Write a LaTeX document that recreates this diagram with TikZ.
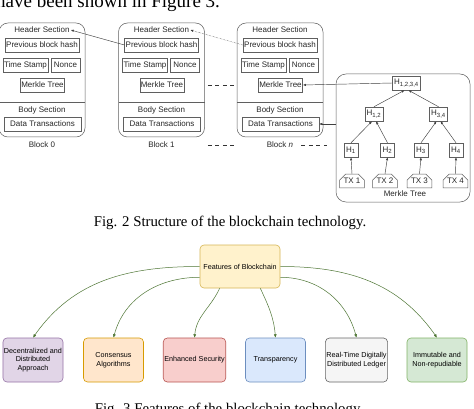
\documentclass[tikz,border=0pt]{standalone}
\usepackage{fontspec}
\setmainfont{Liberation Serif}
\setsansfont{Liberation Sans}
\usepackage{tikz}
\usetikzlibrary{arrows.meta,positioning,shapes.misc,calc}
\usepackage{xcolor}
\definecolor{linegray}{RGB}{95,95,95}
\definecolor{txtgray}{RGB}{40,40,40}
\definecolor{featfill}{HTML}{FFF2CC}
\definecolor{featdraw}{HTML}{D6B656}
\definecolor{purplefill}{HTML}{E1D5E7}
\definecolor{purpledraw}{HTML}{9673A6}
\definecolor{orangefill}{HTML}{FFE6CC}
\definecolor{orangedraw}{HTML}{D79B00}
\definecolor{redfill}{HTML}{F8CECC}
\definecolor{reddraw}{HTML}{B85450}
\definecolor{bluefill}{HTML}{DAE8FC}
\definecolor{bluedraw}{HTML}{6C8EBF}
\definecolor{greyfill}{HTML}{F5F5F5}
\definecolor{greydraw}{HTML}{666666}
\definecolor{greenfill}{HTML}{D5E8D4}
\definecolor{greendraw}{HTML}{82B366}
\definecolor{arrowgreen}{RGB}{78,118,52}
\newcommand{\smallsf}{\sffamily\fontsize{8}{9}\selectfont}
\newcommand{\tinysf}{\sffamily\fontsize{7.2}{8.7}\selectfont}
\tikzset{
  blk/.style={draw=linegray,rounded corners=9pt,minimum width=86pt,minimum height=114pt,
              inner sep=0pt,line width=.5pt},
  fld/.style={draw=linegray,font=\smallsf,text=txtgray,minimum height=14pt,inner sep=1pt,
              line width=.5pt},
  lbl/.style={font=\smallsf,text=txtgray,inner sep=1pt},
  link/.style={-{Latex[length=3pt,width=2.4pt]},draw=black!75,line width=.45pt},
  gap/.style={draw=black!80,line width=.7pt,dash pattern=on 4pt off 3.5pt},
  hbox/.style={draw=linegray,font=\smallsf,text=txtgray,minimum height=14pt,minimum width=14pt,
               inner sep=1.5pt,line width=.5pt},
  txbox/.style={chamfered rectangle,chamfered rectangle corners={north west,north east},
                chamfered rectangle xsep=3pt,draw=linegray,font=\smallsf,text=txtgray,
                minimum width=20pt,minimum height=11pt,inner sep=1pt,line width=.5pt},
  feature/.style={draw,rounded corners=4pt,minimum width=60pt,minimum height=44pt,
                  align=center,font=\tinysf,inner sep=1pt,line width=.6pt},
  featarrow/.style={-{Latex[length=3.5pt,width=3pt]},draw=arrowgreen,line width=.5pt},
  caption/.style={font=\fontsize{14.8}{16}\selectfont,inner sep=0pt},
}

\begin{document}
\begin{tikzpicture}[x=1pt,y=1pt]
  \fill[white] (0,0) rectangle (474,-409);
  \useasboundingbox (0,0) rectangle (474,-409);
  % running text above the figures
  \node[caption,anchor=base west,font=\fontsize{19}{21}\selectfont] (prose) at (-4,-7.5)
    {have been shown in Figure 3.};
  % the three blocks of the chain
  \foreach \bx/\nm/\blab in {-1/b0/0, 118.5/b1/1, 237/bn/\textit{n}}{
    \node[blk] (\nm) at (\bx+43,-80) {};
    \node[lbl] (\nm-hdr)   at (\bx+43,-30)   {Header Section};
    \node[fld,minimum width=72pt] (\nm-prev)  at (\bx+43,-45)   {Previous block hash};
    \node[fld,minimum width=43pt] (\nm-ts)    at (\bx+26.5,-65) {Time Stamp};
    \node[fld,minimum width=29pt] (\nm-nonce) at (\bx+66.5,-65) {Nonce};
    \node[fld,minimum width=43pt] (\nm-mt)    at (\bx+43.5,-85) {Merkle Tree};
    \draw[draw=linegray,line width=.5pt] (\bx,-102) -- (\bx+86,-102);
    \node[lbl] (\nm-body)  at (\bx+43,-110)  {Body Section};
    \node[fld,minimum width=77pt] (\nm-data)  at (\bx+43.5,-124) {Data Transactions};
    \node[lbl] (\nm-lbl)   at (\bx+43,-145)  {Block \blab};
  }
  \draw[link] (b1-prev.west) -- (b0-hdr.east);
  \draw[link,densely dotted] (bn-prev.west) -- (b1-hdr.east);
  \draw[gap] ($(b1.east |- b1-mt)+(3,0)$) -- ($(bn.west |- b1-mt)+(-3,0)$);
  \draw[gap] ($(b1.east |- b1-lbl)+(3,0)$) -- ($(bn.west |- b1-lbl)+(-3,0)$);
  \draw[gap] ($(bn.east |- bn-lbl)+(-22,0)$) -- ($(bn.east |- bn-lbl)+(4,0)$);

  % merkle tree panel
  \node[blk,minimum width=134pt,minimum height=128pt,rounded corners=10pt] (mpanel) at (403,-138) {};
  \node[lbl] (mlabel) at (405,-194) {Merkle Tree};
  \node[hbox] (h1234) at (406.5,-83) {H\textsubscript{1,2,3,4}};
  \node[hbox] (h12) at (374,-114) {H\textsubscript{1,2}};
  \node[hbox] (h34) at (438.5,-114) {H\textsubscript{3,4}};
  \foreach \i/\hx/\tx in {1/351/352, 2/387.5/385, 3/421/419.5, 4/456/455.5}{
    \node[hbox] (h\i) at (\hx,-150) {H\textsubscript{\i}};
    \node[txbox] (tx\i) at (\tx,-181) {TX \i};
    \draw[link] (tx\i.north) -- (h\i.south);
  }
  \foreach \c/\p/\s in {h1/h12/-2, h2/h12/2, h3/h34/-2, h4/h34/2, h12/h1234/-2, h34/h1234/2}
    {\draw[link] (\c.north) -- ([xshift=\s pt]\p.south);}
  \draw[link] (h1234.west) -- (bn-mt.east);
  \draw[link] (mpanel.west |- bn-data) -- (bn-data.east);

  \node[caption] (cap2) at (230,-223) {Fig. 2 Structure of the blockchain technology.};

  % features of blockchain
  \node[feature,draw=featdraw,fill=featfill,minimum width=80pt,minimum height=43pt]
    (feat) at (240,-266.5) {Features of Blockchain};
  \node[feature,draw=purpledraw,fill=purplefill] (f1) at (33,-360)
    {Decentralized and\\Distributed\\Approach};
  \node[feature,draw=orangedraw,fill=orangefill] (f2) at (113.5,-360)
    {Consensus\\Algorithms};
  \node[feature,draw=reddraw,fill=redfill] (f3) at (194.5,-360) {Enhanced Security};
  \node[feature,draw=bluedraw,fill=bluefill] (f4) at (275.5,-360) {Transparency};
  \node[feature,draw=greydraw,fill=greyfill] (f5) at (356.5,-360)
    {Real-Time Digitally\\Distributed Ledger};
  \node[feature,draw=greendraw,fill=greenfill] (f6) at (437,-360)
    {Immutable and\\Non-repudiable};
  \draw[featarrow] (feat.west) to[out=180,in=55] (f1.north);
  \draw[featarrow] (feat.195) to[out=180,in=75] (f2.north);
  \draw[featarrow] (feat.227) to[out=245,in=85] (f3.north);
  \draw[featarrow] (feat.313) to[out=-65,in=95] (f4.north);
  \draw[featarrow] (feat.345) to[out=0,in=105] (f5.north);
  \draw[featarrow] (feat.east) to[out=0,in=125] (f6.north);

  \node[caption,anchor=base] (cap3) at (229,-413) {Fig. 3 Features of the blockchain technology.};
\end{tikzpicture}
\end{document}
